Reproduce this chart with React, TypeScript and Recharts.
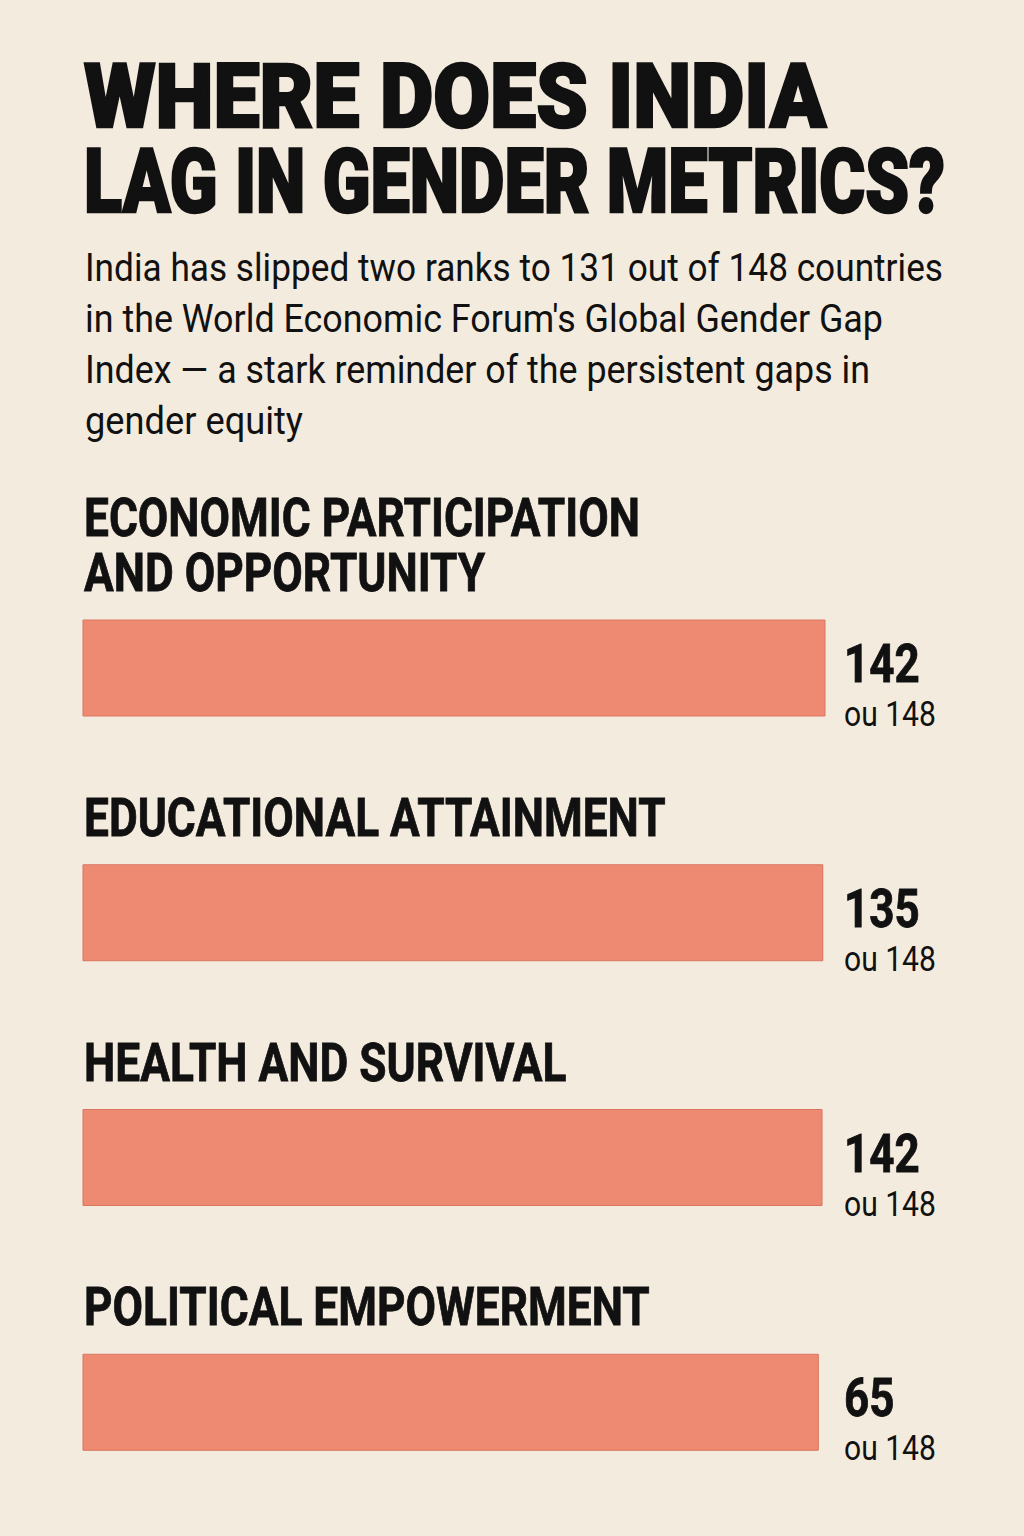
import { BarChart, Bar, XAxis, YAxis, LabelList } from 'recharts';

// Pillar headings (\n marks a line break), rank and total countries
const categories = [
  'ECONOMIC PARTICIPATION\nAND OPPORTUNITY',
  'EDUCATIONAL ATTAINMENT',
  'HEALTH AND SURVIVAL',
  'POLITICAL EMPOWERMENT',
];
const ranks = [142, 135, 142, 65];
const totalCountries = 148;
// bar length as drawn, relative to the longest bar (= 100)
const barShare = [100, 99.7, 99.6, 99.1];

const titleLines = ['WHERE DOES INDIA', 'LAG IN GENDER METRICS?'];
const subtitleLines = [
  'India has slipped two ranks to 131 out of 148 countries',
  "in the World Economic Forum's Global Gender Gap",
  'Index — a stark reminder of the persistent gaps in',
  'gender equity',
];

const data = categories.map((name, i) => ({
  name,
  share: barShare[i],
  rank: ranks[i],
}));

const BG = '#f4ebdf';
const INK = '#111111';
const BAR = '#ef8a72';
const FONT = 'Roboto, "Noto Sans", sans-serif';
const TITLE_SX = 0.8;

function Heading(props: any) {
  const { x, y, value } = props;
  const lines = String(value).split('\n');
  const last = y - 29;
  return (
    <g>
      {lines.map((line, i) => (
        <text
          key={i}
          transform={`translate(${x + 1},${last - (lines.length - 1 - i) * 55}) scale(0.82,1)`}
          fontFamily={FONT}
          fontWeight={700}
          fontSize={54}
          fill={INK}
          stroke={INK}
          strokeWidth={0.8}
        >
          {line}
        </text>
      ))}
    </g>
  );
}

function RankLabel(props: any) {
  const { x, y, width, height, value, index } = props;
  // labels sit in one column just past the full-length (100) position
  const full = (width * 100) / barShare[index];
  const cx = x + full + 19;
  const mid = y + height / 2;
  return (
    <g>
      <text
        transform={`translate(${cx},${mid + 14}) scale(0.83,1)`}
        fontFamily={FONT}
        fontWeight={700}
        fontSize={53}
        fill={INK}
        stroke={INK}
        strokeWidth={0.8}
      >
        {value}
      </text>
      <text
        transform={`translate(${cx},${mid + 58}) scale(0.86,1)`}
        fontFamily={FONT}
        fontSize={35}
        fill={INK}
      >
        {`ou ${totalCountries}`}
      </text>
    </g>
  );
}

export default function App() {
  return (
    <div
      style={{
        position: 'absolute',
        top: 0,
        left: 0,
        width: 1024,
        height: 1536,
        background: BG,
        overflow: 'hidden',
      }}
    >
      <svg
        width={1024}
        height={480}
        style={{ position: 'absolute', top: 0, left: 0 }}
      >
        {titleLines.map((line, i) => (
          <text
            key={line}
            transform={`translate(84,${127 + i * 85}) scale(${TITLE_SX},1)`}
            fontFamily={FONT}
            fontWeight={900}
            fontSize={89}
            fill={INK}
            stroke={INK}
            strokeWidth={2.5}
            textLength={(i === 0 ? 742 : 861) / TITLE_SX}
            lengthAdjust="spacingAndGlyphs"
          >
            {line}
          </text>
        ))}
        {subtitleLines.map((line, i) => (
          <text
            key={line}
            x={85}
            y={281 + i * 51}
            fontFamily={FONT}
            fontSize={38}
            fill={INK}
            textLength={[858, 798, 785, 218][i]}
            lengthAdjust="spacingAndGlyphs"
          >
            {line}
          </text>
        ))}
      </svg>

      <div style={{ position: 'absolute', top: 0, left: 0 }}>
        <BarChart
          width={1024}
          height={1536}
          data={data}
          layout="vertical"
          margin={{ top: 546, right: 199, bottom: 11, left: 83 }}
        >
          <XAxis type="number" domain={[0, 100]} hide />
          <YAxis type="category" dataKey="name" hide />
          <Bar
            dataKey="share"
            fill={BAR}
            stroke="#d9755f"
            strokeWidth={1}
            barSize={96}
            isAnimationActive={false}
          >
            <LabelList dataKey="name" content={Heading} />
            <LabelList dataKey="rank" content={RankLabel} />
          </Bar>
        </BarChart>
      </div>
    </div>
  );
}
